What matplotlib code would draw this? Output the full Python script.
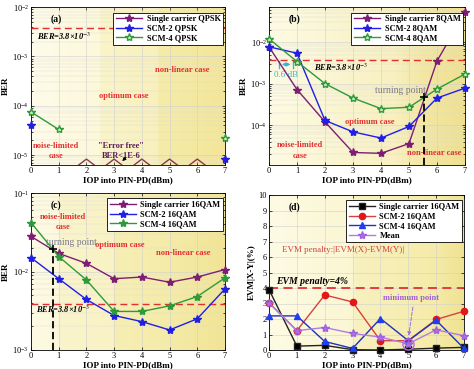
import numpy as np
import matplotlib
matplotlib.use('Agg')
import matplotlib.pyplot as plt
from matplotlib.colors import to_rgb

plt.rcParams['font.family'] = ['Liberation Serif', 'DejaVu Serif']
plt.rcParams['mathtext.fontset'] = 'stix'
plt.rcParams['font.size'] = 6
nan = np.nan

# ---------------- data ----------------
iop = [0, 1, 2, 3, 4, 5, 6, 7]

# (a) QPSK
a_single = [nan] * 8
a_scm2 = [4.0e-5, nan, nan, nan, nan, nan, nan, 8.5e-6]
a_scm4 = [7.5e-5, 3.3e-5, nan, nan, nan, nan, nan, 2.2e-5]
a_errfree_x = [2, 3, 4, 5, 6]

# (b) 8QAM
b_single = [7.7e-3, 7.2e-4, 1.2e-4, 2.2e-5, 2.1e-5, 3.6e-5, 3.5e-3, 5.2e-2]
b_scm2 = [7.7e-3, 5.4e-3, 1.3e-4, 6.9e-5, 4.9e-5, 9.3e-5, 4.5e-4, 7.8e-4]
b_scm4 = [1.2e-2, 3.4e-3, 1.0e-3, 4.5e-4, 2.5e-4, 2.7e-4, 7.4e-4, 1.7e-3]

# (c) 16QAM
c_single = [2.8e-2, 1.7e-2, 1.27e-2, 8.1e-3, 8.5e-3, 7.3e-3, 8.5e-3, 1.06e-2]
c_scm2 = [1.5e-2, 8.1e-3, 4.4e-3, 2.75e-3, 2.3e-3, 1.8e-3, 2.5e-3, 6.0e-3]
c_scm4 = [4.2e-2, 1.55e-2, 7.8e-3, 3.1e-3, 3.1e-3, 3.65e-3, 4.8e-3, 8.3e-3]

# (d) EVM penalty
d_single = [3.9, 0.25, 0.3, 0.02, 0.0, 0.05, 0.12, 0.17]
d_scm2 = [3.05, 1.25, 3.55, 3.1, 0.6, 0.6, 1.97, 2.5]
d_scm4 = [2.2, 2.2, 0.55, 0.1, 2.03, 0.6, 1.92, 0.1]
d_mean = [3.03, 1.25, 1.45, 1.07, 0.83, 0.4, 1.3, 0.92]

BER_LIMIT = 3.8e-3
EVM_LIMIT = 4

PURPLE = '#7d1e74'
BLUE = '#1f1fe6'
GREEN = '#2e9a3a'
RED = '#e23030'
CYAN = '#3db5c8'
GRAY = '#7a7a8c'

W, H = 474, 369
fig = plt.figure(figsize=(W / 100, H / 100), dpi=100)


def rect(l, t, r, b):
    return [l / W, 1 - b / H, (r - l) / W, (b - t) / H]


def background(ax, stops):
    xs = np.linspace(0, 7, 700)
    sx = [s[0] for s in stops]
    cols = np.array([to_rgb(s[1]) for s in stops])
    img = np.stack([np.interp(xs, sx, cols[:, k]) for k in range(3)], axis=-1)
    img = img[None, :, :]
    ax.imshow(img, extent=[0, 1, 0, 1], transform=ax.transAxes,
              aspect='auto', zorder=0, interpolation='bilinear')


def style(ax, ylabel, panel):
    ax.set_xlim(0, 7)
    ax.set_xticks(iop)
    ax.tick_params(direction='in', which='both', top=True, right=True,
                   labelsize=6, pad=1.5, length=2.5, width=0.5)
    ax.tick_params(which='minor', length=1.5)
    ax.grid(True, which='major', color='#cfcfcf', lw=0.4, zorder=0.5)
    ax.set_xlabel('IOP into PIN-PD(dBm)', fontsize=6.5, fontweight='bold', labelpad=1)
    ax.set_ylabel(ylabel, fontsize=6.5, fontweight='bold', labelpad=2)
    for s in ax.spines.values():
        s.set_linewidth(0.6)
    ax.text(0.1, 0.92, panel, transform=ax.transAxes, fontsize=7,
            fontweight='bold', ha='left', va='center', zorder=6)


def legend(ax):
    leg = ax.legend(loc='upper right', bbox_to_anchor=(0.99, 0.965),
                    borderaxespad=0, fancybox=False, framealpha=1,
                    edgecolor='black', prop={'weight': 'bold', 'size': 6},
                    handlelength=3.2, handletextpad=0.5, borderpad=0.3,
                    labelspacing=0.2)
    leg.get_frame().set_linewidth(0.6)
    leg.set_zorder(10)


lkw = dict(lw=1.0, ms=6, clip_on=False, zorder=5)

# ---------------- (a) ----------------
ax = fig.add_axes(rect(31, 7, 225, 165))
background(ax, [(0, '#fefcea'), (2.5, '#fcf8da'), (2.501, '#faf4c8'),
                (4.6, '#f8f0bc'), (4.601, '#f6eca8'), (7, '#f3e69a')])
ax.set_yscale('log')
ax.set_ylim(6.3e-6, 1e-2)
ax.grid(True, which='minor', axis='y', color='#dcdcdc', lw=0.3, zorder=0.5)
ax.plot(iop, a_single, '-*', color=PURPLE, label='Single carrier QPSK', **lkw)
ax.plot(iop, a_scm2, '-*', color=BLUE, label='SCM-2 QPSK', **lkw)
ax.plot(iop, a_scm4, '-*', color=GREEN, mfc='#c8ecc0', label='SCM-4 QPSK', **lkw)
for xe in a_errfree_x:
    ax.plot([xe - 0.28, xe, xe + 0.28], [6.3e-6, 8.3e-6, 6.3e-6],
            color='#8a3a4a', lw=1.0, zorder=4)
ax.axhline(BER_LIMIT, color=RED, ls=(0, (5, 3)), lw=1.0, zorder=3)
ax.text(0.2, 2.6e-3, r'BER=3.8×10$^{-3}$', fontsize=6, fontweight='bold',
        fontstyle='italic', va='center', ha='left')
ax.text(5.45, 5.3e-4, 'non-linear case', color=RED, fontsize=6,
        fontweight='bold', ha='center', va='center')
ax.text(3.35, 1.6e-4, 'optimum case', color=RED, fontsize=6,
        fontweight='bold', ha='center', va='center')
ax.text(0.9, 1.2e-5, 'noise-limited\ncase', color=RED, fontsize=6,
        fontweight='bold', ha='center', va='center', linespacing=1.3)
ax.text(3.25, 1.2e-5, '"Error free"\nBER<1E-6', color='#5a1a60', fontsize=6,
        fontweight='bold', ha='center', va='center', linespacing=1.3)
ax.annotate('', xy=(3.22, 6.9e-6), xytext=(3.5, 9.8e-6),
            arrowprops=dict(arrowstyle='-|>', color='black', lw=0.7,
                            mutation_scale=5))
style(ax, 'BER', '(a)')
legend(ax)

# ---------------- (b) ----------------
ax = fig.add_axes(rect(269, 7, 465, 165))
background(ax, [(0, '#fdfbe4'), (2, '#fbf6d4'), (4.5, '#f8f0be'),
                (5.5, '#f3e7a4'), (7, '#efe090')])
ax.set_yscale('log')
ax.set_ylim(1.1e-5, 7e-2)
ax.grid(True, which='minor', axis='y', color='#dcdcdc', lw=0.3, zorder=0.5)
ax.plot(iop, b_single, '-*', color=PURPLE, label='Single carrier 8QAM', **lkw)
ax.plot(iop, b_scm2, '-*', color=BLUE, label='SCM-2 8QAM', **lkw)
ax.plot(iop, b_scm4, '-*', color=GREEN, mfc='#c8ecc0', label='SCM-4 8QAM', **lkw)
ax.axhline(BER_LIMIT, color=RED, ls=(0, (5, 3)), lw=1.0, zorder=3)
ax.text(1.6, 2.5e-3, r'BER=3.8×10$^{-3}$', fontsize=6, fontweight='bold',
        fontstyle='italic', va='center', ha='left')
for xb in (0.36, 0.87):
    ax.plot([xb, xb], [2.4e-3, 3.5e-3], color=CYAN, lw=1.0, zorder=4)
ax.annotate('', xy=(0.87, 2.9e-3), xytext=(0.36, 2.9e-3),
            arrowprops=dict(arrowstyle='<|-|>', color=CYAN, lw=0.9,
                            mutation_scale=5))
ax.text(0.6, 1.6e-3, '0.6 dB', color=CYAN, fontsize=6.5, ha='center', va='center')
ax.plot([5.52, 5.52], [1.1e-5, 4.8e-4], color='black', ls=(0, (4, 2)), lw=1.3, zorder=6)
ax.plot([5.52], [4.8e-4], '+', color='black', ms=6, mew=1.2, zorder=7)
ax.text(4.7, 7.0e-4, 'turning point', color=GRAY, fontsize=7, ha='center', va='center')
ax.text(3.6, 1.2e-4, 'optimum case', color=RED, fontsize=6,
        fontweight='bold', ha='center', va='center')
ax.text(1.1, 2.5e-5, 'noise-limited\ncase', color=RED, fontsize=6,
        fontweight='bold', ha='center', va='center', linespacing=1.5)
ax.text(5.9, 2.1e-5, 'non-linear case', color=RED, fontsize=6,
        fontweight='bold', ha='center', va='center')
style(ax, 'BER', '(b)')
legend(ax)

# ---------------- (c) ----------------
ax = fig.add_axes(rect(31, 193, 225, 350))
background(ax, [(0, '#fdfbe4'), (1, '#fcf8dc'), (1.001, '#faf4cc'),
                (3, '#f9f2c4'), (3.001, '#f7eeb4'), (5, '#f5eba8'), (7, '#f1e496')])
ax.set_yscale('log')
ax.set_ylim(1e-3, 1e-1)
ax.grid(True, which='minor', axis='y', color='#dcdcdc', lw=0.3, zorder=0.5)
ax.plot(iop, c_single, '-*', color=PURPLE, label='Single carrier 16QAM', **lkw)
ax.plot(iop, c_scm2, '-*', color=BLUE, label='SCM-2 16QAM', **lkw)
ax.plot(iop, c_scm4, '-*', color=GREEN, label='SCM-4 16QAM', **lkw)
ax.axhline(BER_LIMIT, color=RED, ls=(0, (5, 3)), lw=1.0, zorder=3)
ax.text(0.18, 3.3e-3, r'BER=3.8×10$^{-3}$', fontsize=6, fontweight='bold',
        fontstyle='italic', va='center', ha='left', zorder=7)
ax.plot([0.78, 0.78], [1e-3, 1.95e-2], color='black', ls=(0, (4, 2)), lw=1.3, zorder=6)
ax.plot([0.78], [1.95e-2], '+', color='black', ms=6, mew=1.2, zorder=7)
ax.text(1.45, 2.35e-2, 'turning point', color=GRAY, fontsize=7, ha='center', va='center')
ax.text(1.15, 4.3e-2, 'noise-limited\ncase', color=RED, fontsize=6,
        fontweight='bold', ha='center', va='center', linespacing=1.4)
ax.text(3.2, 2.2e-2, 'optimum case', color=RED, fontsize=6,
        fontweight='bold', ha='center', va='center')
ax.text(5.5, 1.7e-2, 'non-linear case', color=RED, fontsize=6,
        fontweight='bold', ha='center', va='center')
style(ax, 'BER', '(c)')
legend(ax)

# ---------------- (d) ----------------
ax = fig.add_axes(rect(269, 195, 464, 350))
background(ax, [(0, '#fdfbe4'), (3, '#fbf6d2'), (3.1, '#f8f1c0'),
                (6, '#f5eba8'), (7, '#efe292')])
ax.set_ylim(0, 10)
ax.set_yticks(range(0, 11))
ax.plot(iop, d_single, '-s', color='#222222', mfc='black', label='Single carrier 16QAM',
        lw=1.0, ms=4, clip_on=False, zorder=5)
ax.plot(iop, d_scm2, '-o', color='#d84040', mfc='#e01818', mec='#e01818',
        label='SCM-2 16QAM', lw=1.0, ms=4.5, clip_on=False, zorder=5)
ax.plot(iop, d_scm4, '-^', color='#2030c0', mfc='#1f3ff0', mec='#1f3ff0',
        label='SCM-4 16QAM', lw=1.0, ms=5, clip_on=False, zorder=5)
ax.plot(iop, d_mean, '-*', color='#b07ee0', mfc='#b070e8', mec='#a060e0',
        label='Mean', lw=1.0, ms=6, clip_on=False, zorder=6)
ax.plot([iop[5]], [d_mean[5]], 'o', mfc='none', mec='#b070e8', ms=8, mew=1.0, zorder=7)
ax.axhline(EVM_LIMIT, color=RED, ls=(0, (5, 3)), lw=1.3, zorder=3)
ax.text(0.47, 6.45, 'EVM penalty:|EVM(X)-EVM(Y)|', color='#d04545', fontsize=6.5,
        ha='left', va='center')
ax.text(0.25, 4.45, 'EVM penalty=4%', fontsize=7, fontweight='bold',
        fontstyle='italic', ha='left', va='center')
ax.text(5.1, 3.35, 'minimum point', color='#a060d8', fontsize=6,
        fontweight='bold', ha='center', va='center')
ax.annotate('', xy=(5.0, 0.75), xytext=(5.18, 2.95),
            arrowprops=dict(arrowstyle='-|>', color='#a070d8', lw=0.7,
                            ls='--', mutation_scale=5))
style(ax, 'EVM|X-Y|(%)', '(d)')
legend(ax)

fig.savefig('out.png', dpi=100)
